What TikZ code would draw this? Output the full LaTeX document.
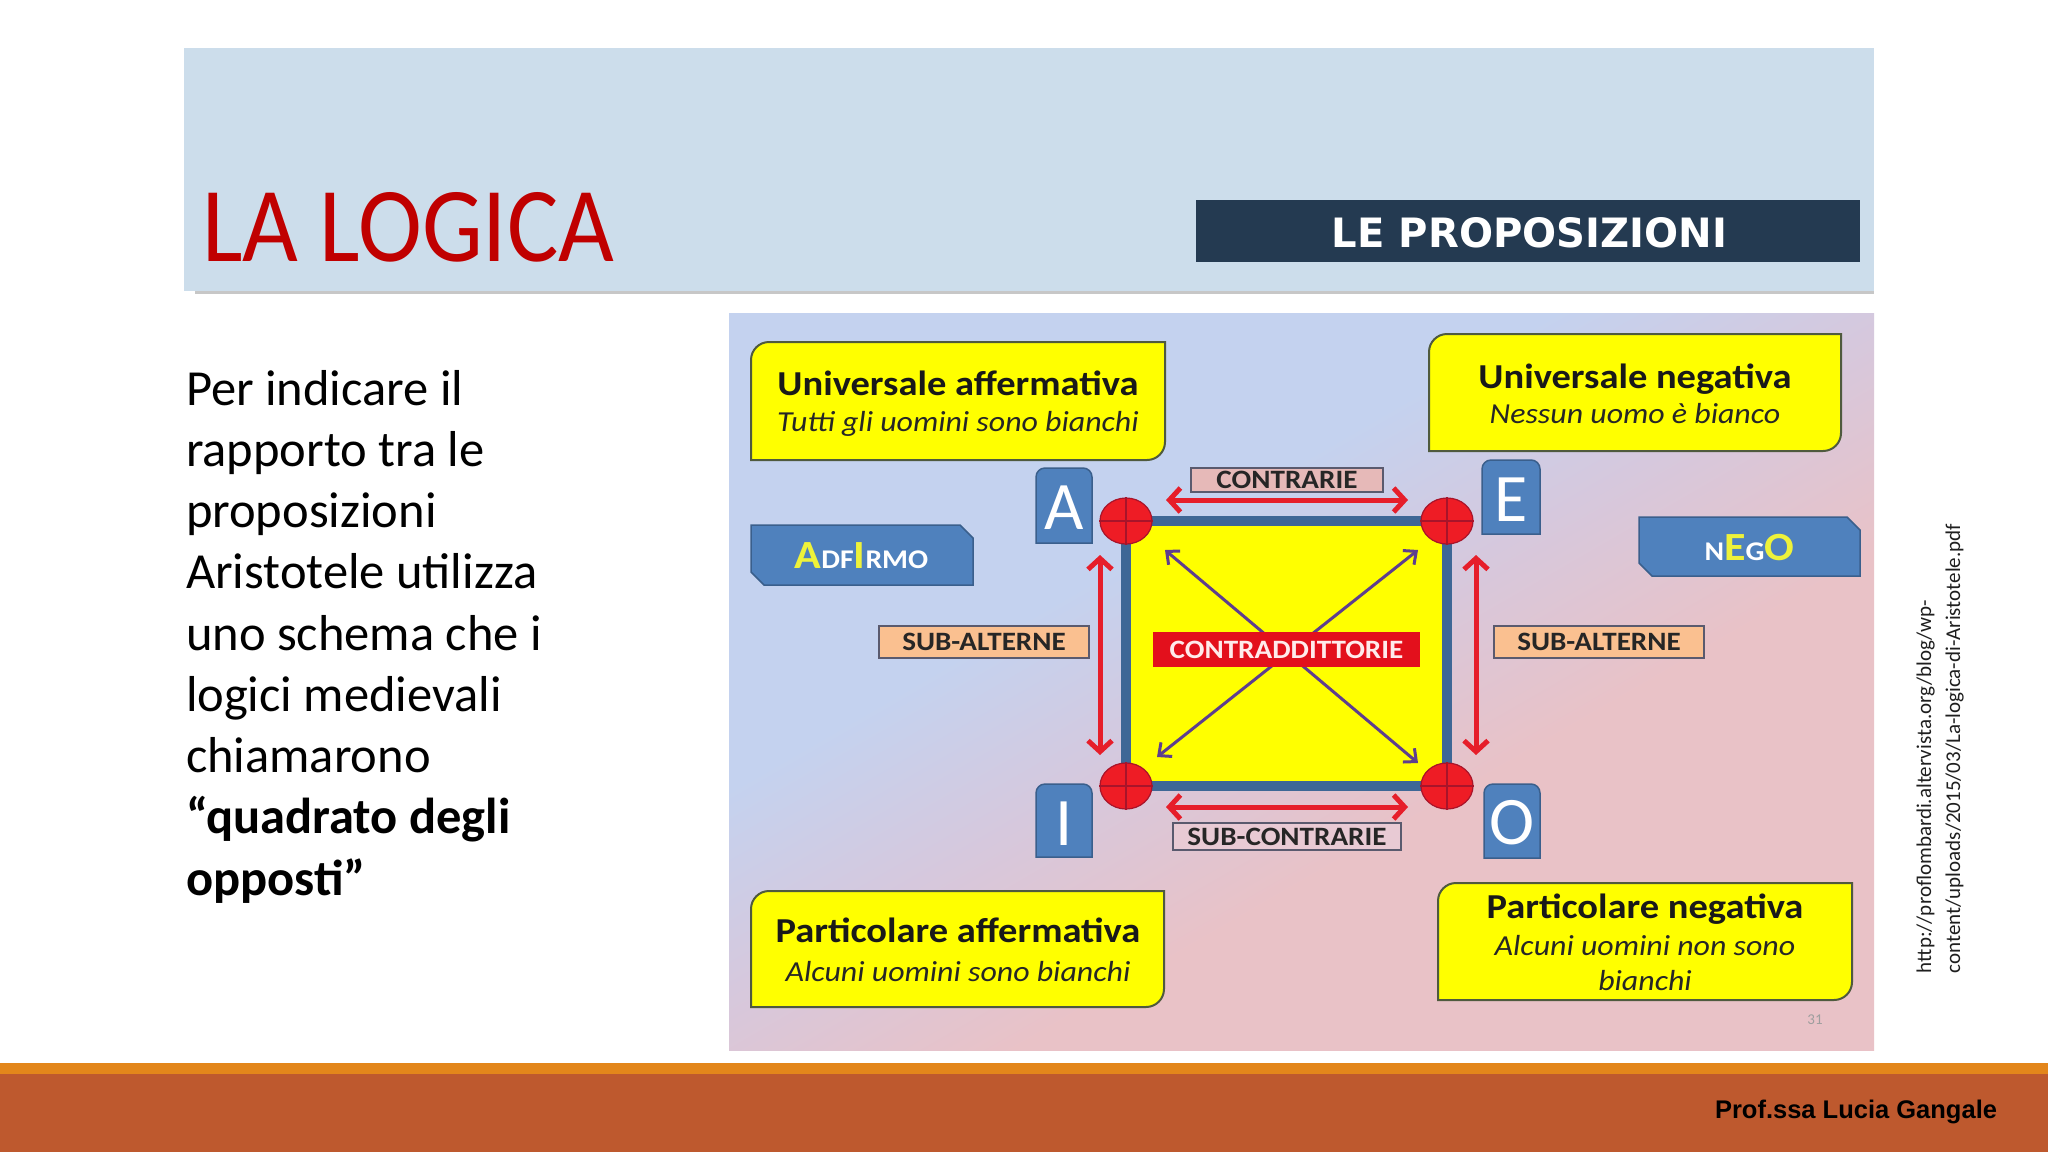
\documentclass[tikz,border=0pt]{standalone}
\usepackage{fontspec}
\usepackage{graphicx}
\setmainfont{Carlito}
\newfontfamily\arialf{Liberation Sans}
\newfontfamily\dejaf{DejaVu Sans}
\usetikzlibrary{arrows.meta,calc,shapes.geometric,shadings}

\definecolor{band}{HTML}{CCDDEB}
\definecolor{titred}{HTML}{C00000}
\definecolor{navy}{HTML}{243A51}
\definecolor{ylw}{HTML}{FFFF00}
\definecolor{ybord}{HTML}{4F5A3E}
\definecolor{bbox}{HTML}{4F81BD}
\definecolor{bbord}{HTML}{3A5F8C}
\definecolor{framec}{HTML}{3E6796}
\definecolor{dotred}{HTML}{EE1C25}
\definecolor{dotdk}{HTML}{A8142A}
\definecolor{arrred}{HTML}{E61E2A}
\definecolor{purp}{HTML}{5E3E8E}
\definecolor{peach}{HTML}{FAC090}
\definecolor{pinkl}{HTML}{E6B9B8}
\definecolor{pinkm}{HTML}{E8CAD4}
\definecolor{lblbord}{HTML}{5A5A6E}
\definecolor{cred}{HTML}{E3101C}
\definecolor{orng}{HTML}{E3861B}
\definecolor{rust}{HTML}{BE592E}
\definecolor{gyel}{HTML}{EEF23A}
\definecolor{bgT}{HTML}{C4D2EF}
\definecolor{bgM}{HTML}{D6C8DD}
\definecolor{bgB}{HTML}{E9C2C7}
\pgfdeclareverticalshading{bgshade}{100bp}{color(0bp)=(bgB); color(40bp)=(bgB); color(51bp)=(bgM); color(61bp)=(bgT); color(100bp)=(bgT)}

\newcommand\hs[1]{\scalebox{1.1}[1]{#1}}
\newcommand\lgsz{\fontsize{40pt}{42pt}\selectfont}
\newcommand\smsz{\fontsize{27pt}{29pt}\selectfont}
% yellow box: rounded top-left and bottom-right
\newcommand\yelbox[5]{%
  \filldraw[fill=ylw, draw=ybord, line width=2pt]
   (#1+#5,#2) -- (#3,#2) -- (#3,#4-#5)
   .. controls (#3,#4-0.4477*#5) and (#3-0.4477*#5,#4) .. (#3-#5,#4)
   -- (#1,#4) -- (#1,#2+#5)
   .. controls (#1,#2+0.4477*#5) and (#1+0.4477*#5,#2) .. (#1+#5,#2) -- cycle;}
% letter box: rounded top corners
\newcommand\letbox[5]{%
  \filldraw[fill=bbox, draw=bbord, line width=1.5pt]
   (#1,#4) -- (#1,#2+#5)
   .. controls (#1,#2+0.4477*#5) and (#1+0.4477*#5,#2) .. (#1+#5,#2)
   -- (#3-#5,#2)
   .. controls (#3-0.4477*#5,#2) and (#3,#2+0.4477*#5) .. (#3,#2+#5)
   -- (#3,#4) -- cycle;}
% snipped box: top-right and bottom-left cut
\newcommand\snipbox[5]{%
  \filldraw[fill=bbox, draw=bbord, line width=1.5pt]
   (#1,#2) -- (#3-#5,#2) -- (#3,#2+#5) -- (#3,#4) -- (#1+#5,#4) -- (#1,#4-#5) -- cycle;}

\begin{document}
\begin{tikzpicture}[x=1pt,y=-1pt,
  t/.style={inner sep=0pt, outer sep=0pt},
  bt/.style={t, font=\bfseries\fontsize{35pt}{38pt}\selectfont, text=black!90},
  it/.style={t, font=\itshape\fontsize{29pt}{32pt}\selectfont, text=black!85},
  body/.style={t, anchor=base west, font=\fontsize{50.5pt}{61pt}\selectfont, text=black},
  lbl/.style={draw=lblbord, line width=1.5pt, inner sep=0pt, font=\bfseries\fontsize{26.5pt}{28pt}\selectfont, text=black!85},
  redarr/.style={draw=arrred, line width=5pt, arrows={Straight Barb[length=11pt,width=24pt]-Straight Barb[length=11pt,width=24pt]}},
  purarr/.style={draw=purp, line width=3pt, arrows={Straight Barb[length=10pt,width=18pt]-Straight Barb[length=10pt,width=18pt]}},
  dotst/.style={ellipse, minimum width=52pt, minimum height=46pt, fill=dotred, draw=dotdk, line width=1.2pt, inner sep=0pt},
  letter/.style={t, text=white, font=\fontsize{68pt}{70pt}\selectfont},
]
\useasboundingbox (0,0) rectangle (2048,1152);
\fill[white] (0,0) rectangle (2048,1152);

% header
\fill[black!22] (195,290) rectangle (1874,294);
\fill[band] (184,48) rectangle (1874,291);
\node[t, anchor=base west, text=titred] (title) at (202,261)
  {\resizebox{412pt}{69pt}{LA LOGICA}};
\fill[navy] (1196,200) rectangle (1860,262);
\node[t, anchor=base, text=white] (sub) at (1529.5,247)
  {\resizebox{395pt}{30pt}{\dejaf\bfseries LE PROPOSIZIONI}};

% left text
\node[body] (l1) at (186,405) {Per indicare il};
\node[body] (l2) at (186,466.25) {rapporto tra le};
\node[body] (l3) at (186,527.5) {proposizioni};
\node[body] (l4) at (186,588.75) {Aristotele utilizza};
\node[body] (l5) at (186,650) {uno schema che i};
\node[body] (l6) at (186,711.25) {logici medievali};
\node[body] (l7) at (186,772.5) {chiamarono};
\node[body, font=\bfseries\fontsize{50.5pt}{61pt}\selectfont] (l8) at (186,833.75) {“quadrato degli};
\node[body, font=\bfseries\fontsize{50.5pt}{61pt}\selectfont] (l9) at (186,895) {opposti”};

% diagram background
\shade[shading=bgshade, shading angle=30] (729,313) rectangle (1874,1050);

% yellow proposition boxes
\yelbox{751}{342}{1165}{460}{18}
\node[bt, anchor=base] (ua) at (958,395) {\hs{Universale affermativa}};
\node[it, anchor=base] (uat) at (958,431) {\hs{Tutti gli uomini sono bianchi}};

\yelbox{1429}{334}{1841}{451}{18}
\node[bt, anchor=base] (un) at (1635,388) {\hs{Universale negativa}};
\node[it, anchor=base] (unt) at (1635,423) {\hs{Nessun uomo è bianco}};

\yelbox{751}{891}{1164}{1007}{18}
\node[bt, anchor=base] (pa) at (958,942) {\hs{Particolare affermativa}};
\node[it, anchor=base] (pat) at (958,981) {\hs{Alcuni uomini sono bianchi}};

\yelbox{1438}{883}{1852}{1000}{18}
\node[bt, anchor=base] (pn) at (1645,918) {\hs{Particolare negativa}};
\node[it, anchor=base] (pnt) at (1645,955) {\hs{Alcuni uomini non sono}};
\node[it, anchor=base] (pnt2) at (1645,990) {\hs{bianchi}};

% ADFIRMO / nEgO
\snipbox{751}{525}{973}{585}{13}
\node[t, anchor=base, font=\bfseries, text=white] (adf) at (861.5,568)
  {\hs{\lgsz\textcolor{gyel}{A}\smsz DF\lgsz\textcolor{gyel}{I}\smsz RMO}};
\snipbox{1639}{517}{1860}{576}{13}
\node[t, anchor=base, font=\bfseries, text=white] (neg) at (1749.5,560)
  {\hs{\smsz N\lgsz\textcolor{gyel}{E}\smsz G\lgsz\textcolor{gyel}{O}}};

% square
\filldraw[fill=ylw, draw=framec, line width=10pt] (1126,521) rectangle (1447,786);
\coordinate (cA) at (1126,521);
\coordinate (cE) at (1447,521);
\coordinate (cI) at (1126,786);
\coordinate (cO) at (1447,786);

% contradictory arrows
\draw[purarr] ($(cA)+(39,29)$) -- ($(cO)+(-29,-23)$);
\draw[purarr] ($(cE)+(-29,29)$) -- ($(cI)+(31,-29)$);
\node[t, fill=cred, minimum width=267pt, minimum height=35pt, text=white!92!red,
  font=\bfseries\fontsize{26.5pt}{28pt}\selectfont] (contrad) at (1286.5,649.5) {\hs{CONTRADDITTORIE}};

% red arrows
\draw[redarr] ($(cA)+(40,-21)$) -- ($(cE)+(-39,-21)$);
\draw[redarr] ($(cI)+(40,21)$) -- ($(cO)+(-39,21)$);
\draw[redarr] ($(cA)+(-26,34)$) -- ($(cI)+(-26,-31)$);
\draw[redarr] ($(cE)+(29,34)$) -- ($(cO)+(29,-31)$);

% labels
\node[lbl, fill=pinkl, minimum width=192pt, minimum height=24pt] (contr) at (1287,480) {\hs{CONTRARIE}};
\node[lbl, fill=pinkm, minimum width=228pt, minimum height=27pt] (subc) at (1287,836.5) {\hs{SUB-CONTRARIE}};
\node[lbl, fill=peach, minimum width=210pt, minimum height=32pt] (subl) at (984,642) {\hs{SUB-ALTERNE}};
\node[lbl, fill=peach, minimum width=210pt, minimum height=32pt] (subr) at (1599,642) {\hs{SUB-ALTERNE}};

% dots
\foreach \n/\p in {dA/cA, dE/cE, dI/cI, dO/cO}{
  \node[dotst] (\n) at (\p) {};
  \draw[dotdk, line width=1.4pt] (\n.north) -- (\n.south) (\n.west) -- (\n.east);
}

% letter boxes
\letbox{1036}{468}{1092}{543}{9}
\node[letter] (lA) at (1064,508) {A};
\letbox{1482}{460}{1540}{534}{9}
\node[letter] (lE) at (1511,500) {E};
\letbox{1036}{784}{1092}{857}{9}
\node[letter] (lI) at (1064,824) {I};
\letbox{1484}{784}{1540}{858}{9}
\node[letter] (lO) at (1512,823) {O};

\node[t, text=black!38, font=\fontsize{15pt}{16pt}\selectfont] (pg) at (1815,1020) {31};

% URL
\node[t, rotate=90, anchor=west, align=left, text=black!88,
  font=\fontsize{21pt}{29pt}\selectfont] (url) at (1940,973)
  {http://proflombardi.altervista.org/blog/wp-\\content/uploads/2015/03/La-logica-di-Aristotele.pdf};

% footer
\fill[orng] (0,1063) rectangle (2048,1075);
\fill[rust] (0,1074) rectangle (2048,1152);
\node[t, anchor=base west, font=\arialf\bfseries\fontsize{25.5pt}{27pt}\selectfont, text=black] (prof) at (1715,1118) {Prof.ssa Lucia Gangale};
\end{tikzpicture}
\end{document}
